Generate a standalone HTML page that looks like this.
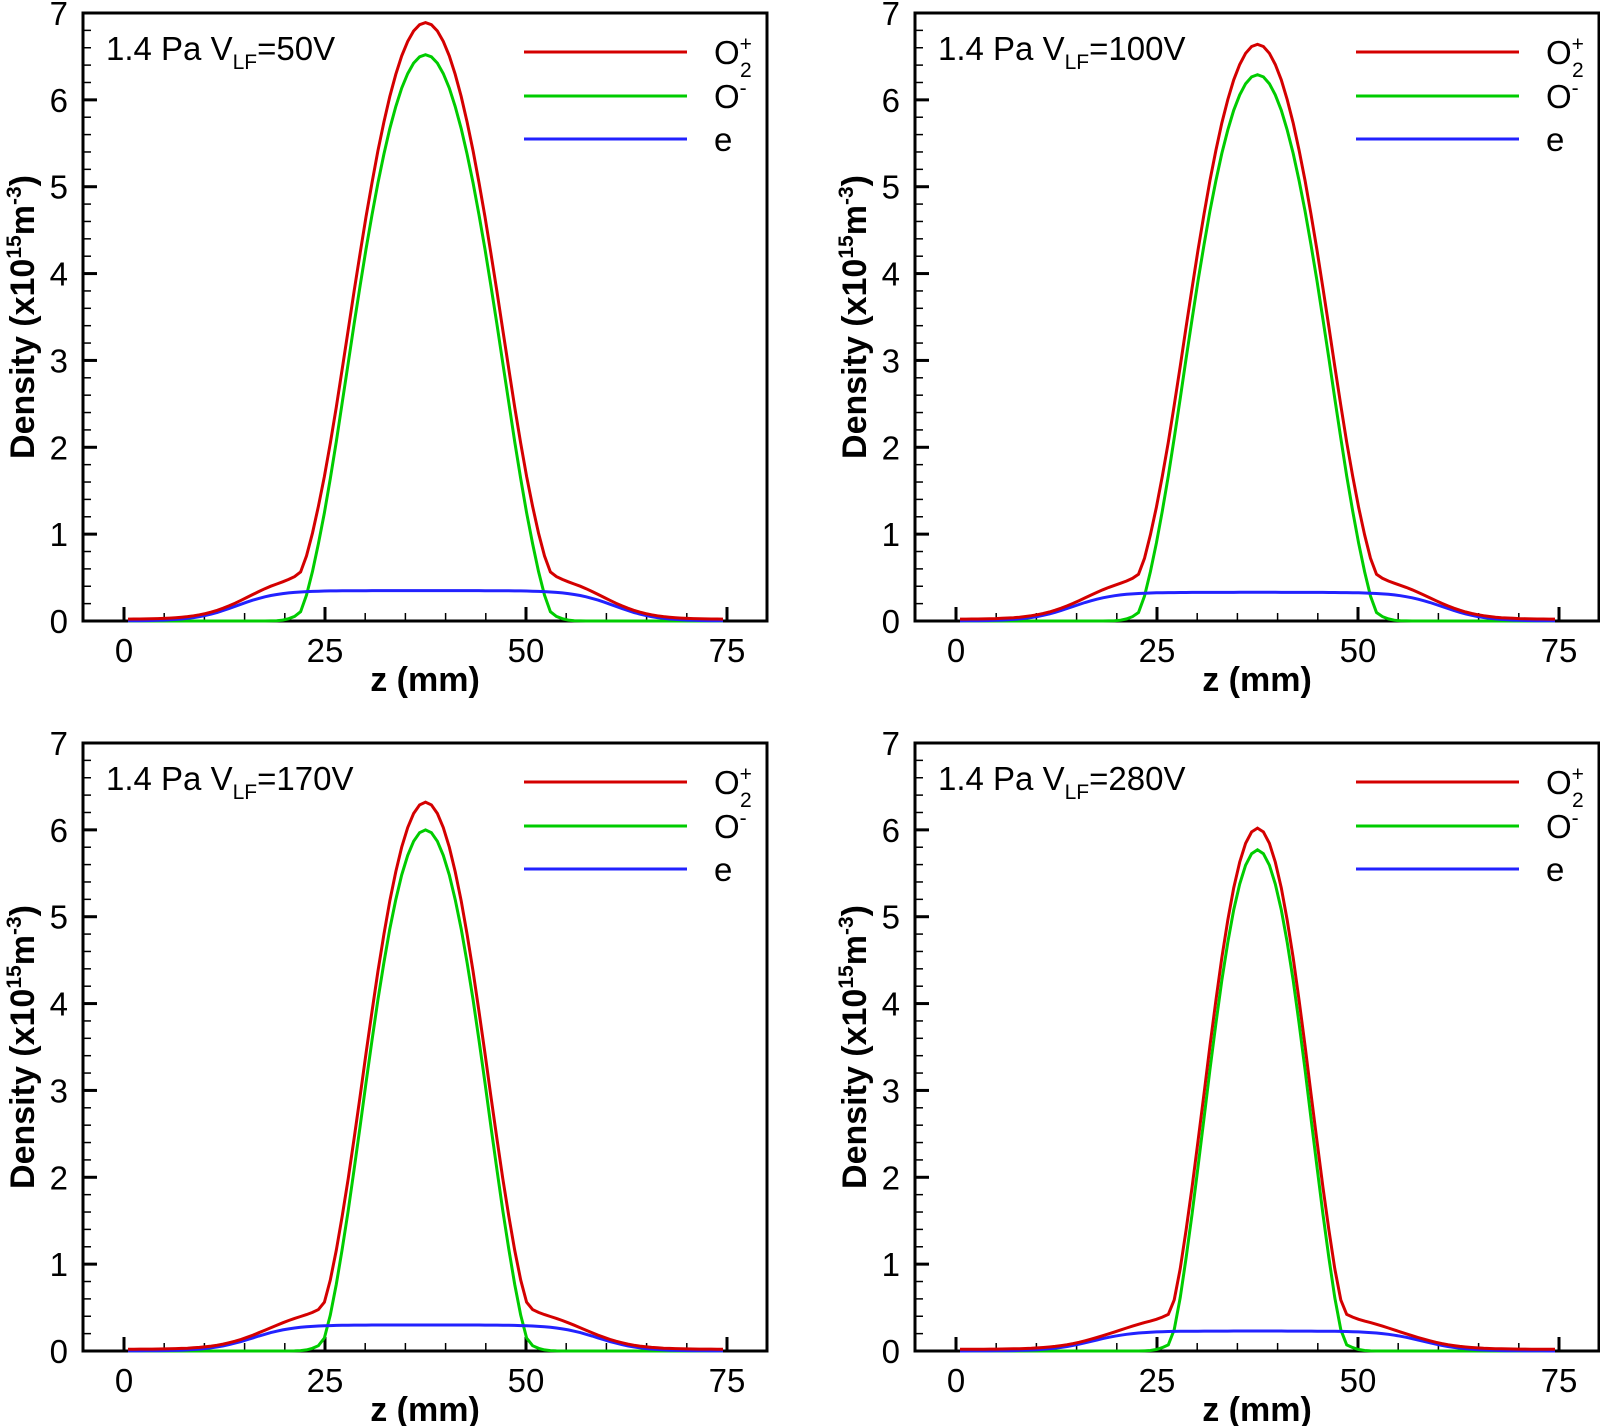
<!DOCTYPE html>
<html><head><meta charset="utf-8"><style>
html,body{margin:0;padding:0;background:#fff}
svg{display:block}
text{font-family:"Liberation Sans",Arial,sans-serif;fill:#000}
</style></head><body>
<svg id="s" width="1600" height="1426" viewBox="0 0 1600 1426" xmlns="http://www.w3.org/2000/svg"></svg>
<script>
const S=document.getElementById('s');
const panels=[
 {dx:0,dy:0,v:"50V",R:6.87,E:0.35,w:15.8,ea:14,eb:61},
 {dx:832,dy:0,v:"100V",R:6.62,E:0.33,w:15.0,ea:14.5,eb:60.5},
 {dx:0,dy:730,v:"170V",R:6.30,E:0.30,w:13.0,ea:16,eb:59},
 {dx:832,dy:730,v:"280V",R:6.00,E:0.23,w:11.0,ea:17,eb:58}
];
let h='';
const L=83,Rt=767,T=13,B=621;
const X=z=>124+z*8.04, Y=v=>B-v*(B-T)/7;
const sig=x=>1/(1+Math.exp(-x));
for(const p of panels){
 h+=`<g transform="translate(${p.dx},${p.dy})">`;
 h+=`<rect x="${L}" y="${T}" width="${Rt-L}" height="${B-T}" fill="none" stroke="#000" stroke-width="3"/>`;
 for(let z=-5;z<=80;z+=5){const x=X(z); if(x<=L+1||x>=Rt-1)continue; const maj=z%25===0;
  h+=`<line x1="${x}" y1="${B}" x2="${x}" y2="${B-(maj?14:8)}" stroke="#000" stroke-width="${maj?3:1.5}"/>`;
  if(maj)h+=`<text x="${x}" y="662" font-size="33" text-anchor="middle">${z}</text>`;}
 for(let i=0;i<=35;i++){const v=i/5,y=Y(v),maj=i%5===0;
  h+=`<line x1="${L}" y1="${y}" x2="${L+(maj?14:8)}" y2="${y}" stroke="#000" stroke-width="${maj?3:1.5}"/>`;
  if(maj)h+=`<text x="68" y="${y+12}" font-size="33" text-anchor="end">${v}</text>`;}
 h+=`<text x="425" y="691" font-size="34" font-weight="bold" text-anchor="middle">z (mm)</text>`;
 h+=`<text transform="translate(34,317) rotate(-90)" font-size="34" font-weight="bold" text-anchor="middle">Density (x10<tspan font-size="21" dy="-13">15</tspan><tspan dy="13">m</tspan><tspan font-size="21" dy="-13">-3</tspan><tspan dy="13">)</tspan></text>`;
 h+=`<text x="106" y="60" font-size="33">1.4 Pa V<tspan font-size="21" dy="9">LF</tspan><tspan dy="-9">=${p.v}</tspan></text>`;
 const lg=[["#d40000",52,'O<tspan font-size="21" dy="-13">+</tspan><tspan font-size="21" dx="-12" dy="26">2</tspan>'],["#00cc00",96,'O<tspan font-size="21" dy="-13">-</tspan>'],["#2222ff",139,'e']];
 for(const [c,y,t] of lg){h+=`<line x1="524" y1="${y}" x2="687" y2="${y}" stroke="${c}" stroke-width="3"/>`;
  h+=`<text x="714" y="${y+12}" font-size="33">${t}</text>`;}
 const G=p.R-p.E;
 let pr='',pg='',pb='';
 for(let i=0;i<=100;i++){const z=0.5+i*0.74;const u=(z-37.5)/p.w;
  let g=Math.abs(u)<1?G*Math.pow(1-u*u,1.7):0;
  g+=0.12*Math.exp(-Math.pow((Math.abs(z-37.5)-p.w+1.5)/2.2,2));
  const e=p.E*sig((z-p.ea)/2.6)*sig((p.eb-z)/2.6);
  const tail=0.02+0.11*Math.exp(-Math.pow((Math.abs(z-37.5)-p.w-1)/5,2));
  const r=g+e+tail;
  const c=i?'L':'M';
  pr+=`${c}${X(z).toFixed(1)},${Y(r).toFixed(1)}`;pg+=`${c}${X(z).toFixed(1)},${Y(g).toFixed(1)}`;pb+=`${c}${X(z).toFixed(1)},${Y(e).toFixed(1)}`;}
 h+=`<path d="${pg}" fill="none" stroke="#00cc00" stroke-width="3"/>`;
 h+=`<path d="${pb}" fill="none" stroke="#2222ff" stroke-width="3"/>`;
 h+=`<path d="${pr}" fill="none" stroke="#d40000" stroke-width="3"/>`;
 h+='</g>';
}
S.innerHTML=h;
</script>
</body></html>
